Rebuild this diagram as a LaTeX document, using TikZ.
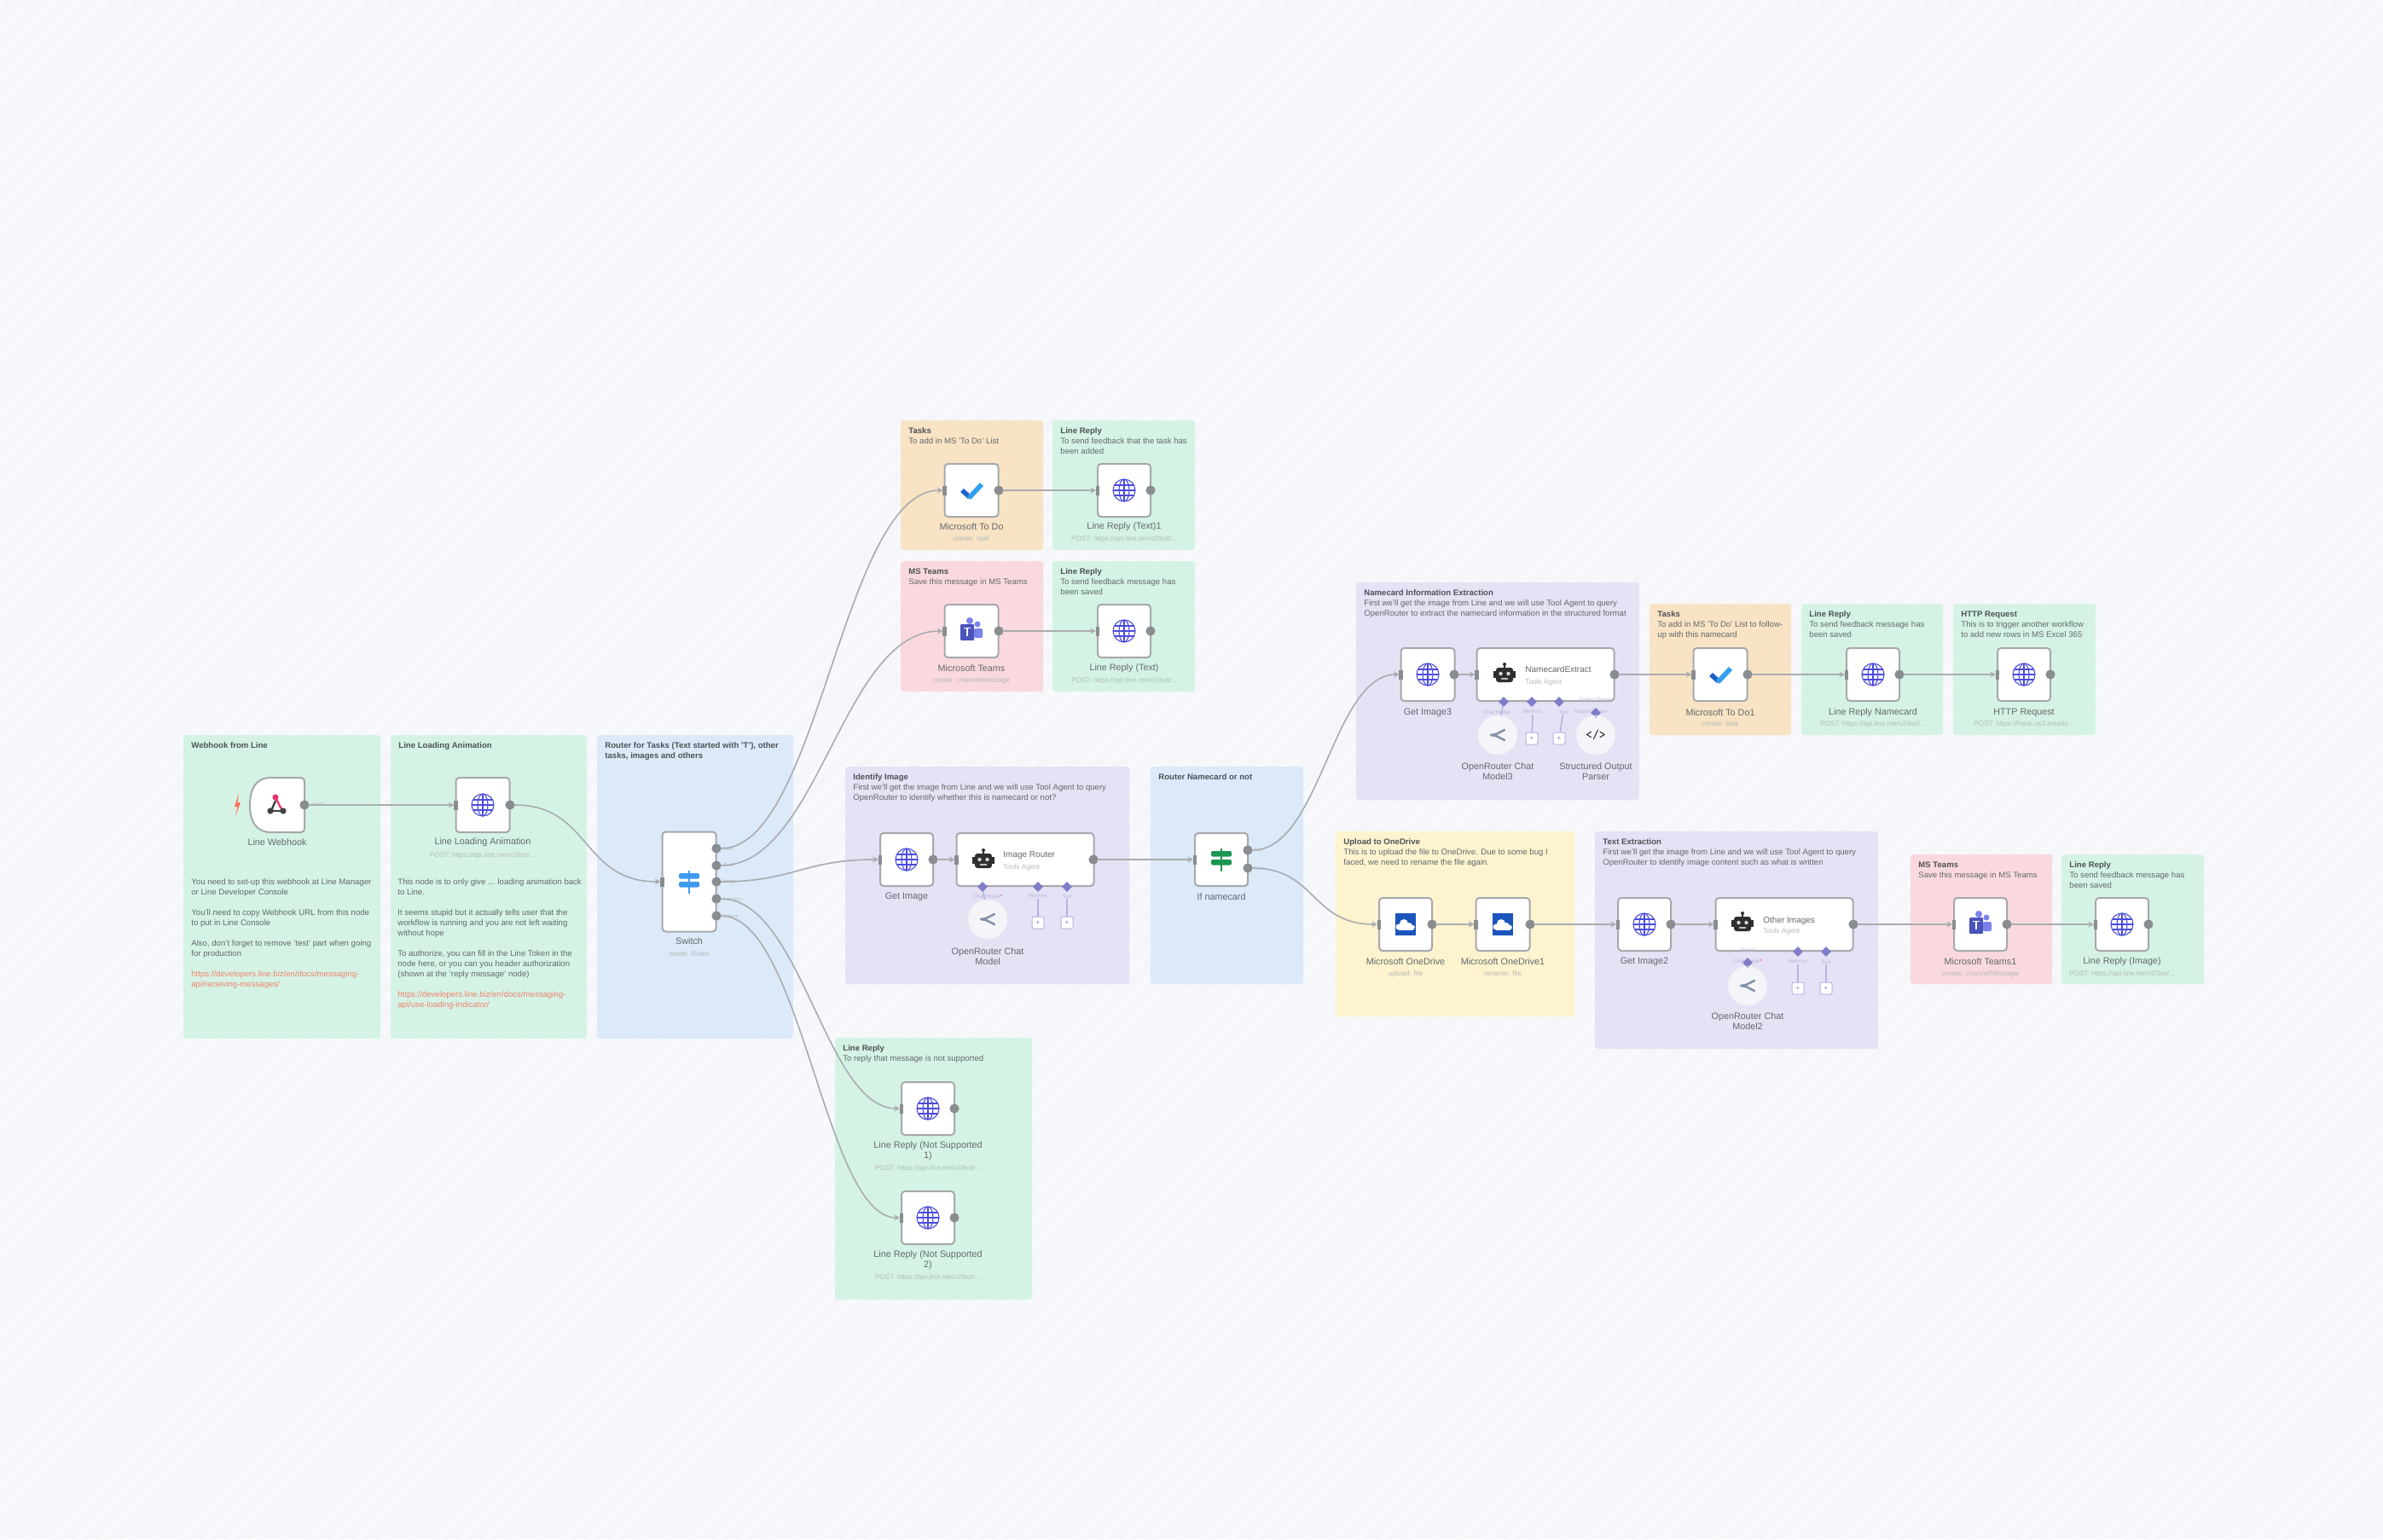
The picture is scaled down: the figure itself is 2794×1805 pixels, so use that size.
\documentclass[tikz,border=0pt]{standalone}
\usepackage{fontspec}
\setmainfont{Liberation Sans}
\usetikzlibrary{arrows.meta,shapes.geometric}
\definecolor{bgbase}{HTML}{F4F6FA}
\definecolor{bgstripe}{HTML}{F8F9FC}
\definecolor{sgreen}{HTML}{D5F3E5}
\definecolor{sblue}{HTML}{DCE9F8}
\definecolor{sorange}{HTML}{F8E3C4}
\definecolor{spink}{HTML}{FAD9DE}
\definecolor{spurple}{HTML}{E4E2F4}
\definecolor{syellow}{HTML}{FDF3CF}
\definecolor{txt}{HTML}{63686C}
\definecolor{head}{HTML}{4E5256}
\definecolor{subt}{HTML}{B4BAB8}
\definecolor{urlred}{HTML}{F0806E}
\definecolor{portc}{HTML}{8A8D90}
\definecolor{boxc}{HTML}{A6A8AB}
\definecolor{linec}{HTML}{A9ACAF}
\definecolor{globec}{HTML}{4B4BDD}
\definecolor{diac}{HTML}{7F7CC8}
\definecolor{dline}{HTML}{B5B3E2}
\definecolor{plabel}{HTML}{B9B8D6}
\definecolor{msdark}{HTML}{1F62C9}
\definecolor{mslight}{HTML}{2F9FEE}
\definecolor{teamdark}{HTML}{4B53BC}
\definecolor{teamlight}{HTML}{7B83EB}
\definecolor{odblue}{HTML}{1B55BB}
\definecolor{signblue}{HTML}{3E9BF0}
\definecolor{signgreen}{HTML}{1C9650}
\definecolor{modelic}{HTML}{8492A8}
\definecolor{hookpink}{HTML}{E5396D}
\definecolor{bolt}{HTML}{FF6D5A}
\tikzset{
  x=0.5pt,y=-0.5pt,
  stickybox/.style={rounded corners=1.5pt,inner sep=0pt,outer sep=0pt,anchor=north west},
  stickytext/.style={anchor=north west,inner sep=0pt,align=left,text=txt,font=\fontsize{4.8}{6}\selectfont},
  nodebox/.style={draw=boxc,fill=white,line width=1pt,rounded corners=2pt,inner sep=0pt,outer sep=0pt},
  inport/.style={fill=portc,draw=none,minimum width=2.2pt,minimum height=5.5pt,inner sep=0pt,outer sep=0pt},
  outport/.style={circle,fill=portc,draw=none,minimum size=5.6pt,inner sep=0pt,outer sep=0pt},
  lbl/.style={inner sep=0pt,align=center,text=txt,yshift=-0.7pt,font=\fontsize{5.4}{6}\selectfont},
  sublbl/.style={inner sep=0pt,align=center,text=subt,yshift=-0.5pt,font=\fontsize{4.1}{4.6}\selectfont},
  elbl/.style={inner sep=0pt,anchor=west,text=subt,font=\fontsize{2.8}{3}\selectfont},
  conn/.style={draw=linec,line width=0.8pt,-{Stealth[length=3.2pt,width=3.6pt]}},
  dia/.style={diamond,fill=diac,draw=none,minimum size=6pt,inner sep=0pt},
  dwire/.style={draw=dline,line width=0.8pt},
  plusbox/.style={draw=dline,fill=white,line width=0.5pt,rounded corners=1pt,minimum size=7pt,inner sep=0pt,text=diac,font=\fontsize{4}{4}\selectfont},
  plab/.style={inner sep=0pt,text=plabel,font=\fontsize{3.1}{3.5}\selectfont},
  modelc/.style={circle,fill=black!4!spurple!30!white,draw=black!6,line width=0.3pt,minimum size=23pt,inner sep=0pt},
}
\newcommand{\hd}[1]{{\bfseries\color{head}#1}}
\newcommand{\stk}[8]{%
  \node[stickybox,fill=#6,minimum width={(#4-#2)*0.5pt},minimum height={(#5-#3)*0.5pt}] (#1) at (#2,#3) {};
  \node[stickytext] (#1-t) at (#2+9,#3+8) {\hd{#7}\\#8};}
\newcommand{\nbox}[5]{%
  \node[nodebox,minimum width={#4*0.5pt},minimum height={#5*0.5pt}] (#1) at (#2,#3) {};
  \node[inport] (#1-i) at (#1.west) {};}
\newcommand{\oport}[3]{\node[outport] (#1) at (#2,#3) {};}
\newcommand{\lab}[4]{\node[lbl] (#1) at (#2,#3) {#4};}
\newcommand{\sublab}[4]{\node[sublbl] (#1) at (#2,#3) {#4};}
\newcommand{\globe}[2]{\begin{scope}[shift={(#1,#2)},draw=globec,line width=0.55pt]
  \draw (0,0) circle (13); \draw (0,0) ellipse (6 and 13);
  \draw (0,-13) -- (0,13); \draw (-13,0) -- (13,0);
  \draw (-11.5,-6) -- (11.5,-6); \draw (-11.5,6) -- (11.5,6);
  \end{scope}}
\newcommand{\robot}[2]{\begin{scope}[shift={(#1,#2)}]
  \fill[black!82] (-13,-3) rectangle (-10,5); \fill[black!82] (10,-3) rectangle (13,5);
  \draw[black!82,line width=0.6pt] (0,-10) -- (0,-6); \fill[black!82] (0,-11) circle (2);
  \fill[black!82,rounded corners=1.5pt] (-10,-7) rectangle (10,10);
  \fill[white!85!black] (-4.5,0) circle (2.2); \fill[white!85!black] (4.5,0) circle (2.2);
  \fill[white!75!black] (-4,5) rectangle (4,6.5);
  \end{scope}}
\newcommand{\chk}[2]{\begin{scope}[shift={(#1,#2)}]
  \draw[line width=2.8pt,color=msdark] (-11,0) -- (-2,8);
  \draw[line width=2.8pt,color=mslight] (-3,9) -- (12,-7);
  \end{scope}}
\newcommand{\teams}[2]{\begin{scope}[shift={(#1,#2)}]
  \fill[color=teamlight] (-2,-12) circle (4);
  \fill[color=teamlight] (7,-8) circle (3.5);
  \fill[color=teamlight,rounded corners=1pt] (3,-3) rectangle (13,8);
  \fill[color=teamdark,rounded corners=0.5pt] (-13,-8) rectangle (3,11);
  \draw[white,line width=0.8pt] (-9,-3.5) -- (-1,-3.5); \draw[white,line width=0.8pt] (-5,-3.5) -- (-5,6);
  \end{scope}}
\newcommand{\onedrive}[2]{\begin{scope}[shift={(#1,#2)}]
  \fill[color=odblue] (-12,-13) rectangle (12,13);
  \fill[white] (-8,3) circle (3.5); \fill[white] (-2,-1) circle (5); \fill[white] (4,2) circle (4); \fill[white] (8,3.5) circle (2.8);
  \fill[white] (-8,3) rectangle (9,6.5);
  \end{scope}}
\newcommand{\sign}[3]{\begin{scope}[shift={(#1,#2)},color=#3]
  \fill (-1.3,-13) rectangle (1.3,14);
  \fill[rounded corners=1pt] (-12,-10) rectangle (12,-3.5);
  \fill[rounded corners=1pt] (-12,0) rectangle (12,6.5);
  \end{scope}}
\newcommand{\modelicon}[2]{\begin{scope}[shift={(#1,#2)}]
  \draw[color=modelic,line width=1.3pt,line join=round,line cap=round] (8,-6) -- (-2,-1) -- (-8,0) -- (-2,1) -- (8,6);
  \end{scope}}
\begin{document}
\begin{tikzpicture}
\useasboundingbox (0,0) rectangle (2794,1805);
\fill[bgbase] (0,0) rectangle (2794,1805);
\begin{scope}
\clip (0,0) rectangle (2794,1805);
\foreach \k in {-1830,-1800,...,2794}{\draw[bgstripe,line width=4.5pt] (\k,1805) -- ({\k+1805},0);}
\end{scope}
% stickies
\stk{s1}{215}{862}{446}{1218}{sgreen}{Webhook from Line}{}
\stk{s2}{458}{862}{688}{1218}{sgreen}{Line Loading Animation}{}
\stk{s3}{700}{862}{930}{1218}{sblue}{Router for Tasks (Text started with 'T'), other}{\hd{tasks, images and others}}
\stk{s4}{1056}{493}{1223}{645}{sorange}{Tasks}{To add in MS 'To Do' List}
\stk{s5}{1234}{493}{1401}{645}{sgreen}{Line Reply}{To send feedback that the task has\\been added}
\stk{s6}{1056}{658}{1223}{811}{spink}{MS Teams}{Save this message in MS Teams}
\stk{s7}{1234}{658}{1401}{811}{sgreen}{Line Reply}{To send feedback message has\\been saved}
\stk{s8}{991}{899}{1324}{1154}{spurple}{Identify Image}{First we'll get the image from Line and we will use Tool Agent to query\\OpenRouter to identify whether this is namecard or not?}
\stk{s9}{1349}{899}{1528}{1154}{sblue}{Router Namecard or not}{}
\stk{s10}{1590}{683}{1922}{938}{spurple}{Namecard Information Extraction}{First we'll get the image from Line and we will use Tool Agent to query\\OpenRouter to extract the namecard information in the structured format}
\stk{s11}{1934}{708}{2100}{862}{sorange}{Tasks}{To add in MS 'To Do' List to follow-\\up with this namecard}
\stk{s12}{2112}{708}{2278}{862}{sgreen}{Line Reply}{To send feedback message has\\been saved}
\stk{s13}{2290}{708}{2457}{862}{sgreen}{HTTP Request}{This is to trigger another workflow\\to add new rows in MS Excel 365}
\stk{s14}{1566}{975}{1846}{1192}{syellow}{Upload to OneDrive}{This is to upload the file to OneDrive. Due to some bug I\\faced, we need to rename the file again.}
\stk{s15}{1870}{975}{2202}{1230}{spurple}{Text Extraction}{First we'll get the image from Line and we will use Tool Agent to query\\OpenRouter to identify image content such as what is written}
\stk{s16}{2240}{1002}{2406}{1154}{spink}{MS Teams}{Save this message in MS Teams}
\stk{s17}{2417}{1002}{2584}{1154}{sgreen}{Line Reply}{To send feedback message has\\been saved}
\stk{s18}{979}{1217}{1210}{1524}{sgreen}{Line Reply}{To reply that message is not supported}
\node[stickytext] (s1b) at (224,1030) {You need to set-up this webhook at Line Manager\\or Line Developer Console\\[6pt]You'll need to copy Webhook URL from this node\\to put in Line Console\\[6pt]Also, don't forget to remove 'test' part when going\\for production\\[6pt]\textcolor{urlred}{https://developers.line.biz/en/docs/messaging-}\\\textcolor{urlred}{api/receiving-messages/}};
\node[stickytext] (s2b) at (466,1030) {This node is to only give ... loading animation back\\to Line.\\[6pt]It seems stupid but it actually tells user that the\\workflow is running and you are not left waiting\\without hope\\[6pt]To authorize, you can fill in the Line Token in the\\node here, or you can you header authorization\\(shown at the 'reply message' node)\\[6pt]\textcolor{urlred}{https://developers.line.biz/en/docs/messaging-}\\\textcolor{urlred}{api/use-loading-indicator/}};
% webhook node (large left radius)
\draw[boxc,fill=white,line width=1pt,rounded corners=2pt] (325,912) -- (357,912) -- (357,976) -- (325,976);
\draw[boxc,fill=white,line width=1pt] (325,912) -- (318,912) .. controls (300,912) and (293,925) .. (293,944) .. controls (293,963) and (300,976) .. (318,976) -- (325,976);
\fill[white] (318,914) rectangle (355,974);
\coordinate (hook) at (325,944);
\oport{hook-o}{357}{944}
\lab{hook-l}{325}{986}{Line Webhook}
% main nodes
\nbox{load}{566}{944}{63}{64}\oport{load-o}{598}{944}
\lab{load-l}{566}{986}{Line Loading Animation}\sublab{load-s}{566}{1002}{POST: https://api.line.me/v2/bot/...}
\nbox{sw}{808}{1034}{63}{117}
\oport{sw-a}{840}{995}\oport{sw-b}{840}{1015}\oport{sw-c}{840}{1034}\oport{sw-d}{840}{1054}\oport{sw-e}{840}{1074}
\lab{sw-l}{808}{1102}{Switch}\sublab{sw-s}{808}{1118}{mode: Rules}
\nbox{todo}{1139}{575}{63}{62}\oport{todo-o}{1171}{575}
\lab{todo-l}{1139}{616}{Microsoft To Do}\sublab{todo-s}{1139}{631}{create: task}
\nbox{rt1}{1318}{575}{62}{62}\oport{rt1-o}{1349}{575}
\lab{rt1-l}{1318}{616}{Line Reply (Text)1}\sublab{rt1-s}{1318}{631}{POST: https://api.line.me/v2/bot/...}
\nbox{tm}{1139}{740}{63}{62}\oport{tm-o}{1171}{740}
\lab{tm-l}{1139}{782}{Microsoft Teams}\sublab{tm-s}{1139}{797}{create: channelMessage}
\nbox{rt}{1318}{740}{62}{62}\oport{rt-o}{1349}{740}
\lab{rt-l}{1318}{782}{Line Reply (Text)}\sublab{rt-s}{1318}{797}{POST: https://api.line.me/v2/bot/...}
\nbox{gi}{1063}{1008}{62}{62}\oport{gi-o}{1094}{1008}
\lab{gi-l}{1063}{1050}{Get Image}
\nbox{ir}{1202}{1008}{161}{62}\oport{ir-o}{1282}{1008}
\node[lbl,anchor=west] (ir-l) at (1176,1002) {\fontsize{5}{6}\selectfont Image Router};
\node[sublbl,anchor=west] (ir-s) at (1176,1016) {Tools Agent};
\nbox{ifn}{1432}{1008}{62}{62}\oport{ifn-a}{1463}{997}\oport{ifn-b}{1463}{1018}
\lab{ifn-l}{1432}{1050}{If namecard}
\nbox{g3}{1674}{791}{63}{62}\oport{g3-o}{1705}{791}
\lab{g3-l}{1674}{834}{Get Image3}
\nbox{nc}{1812}{791}{161}{62}\oport{nc-o}{1893}{791}
\node[lbl,anchor=west] (nc-l) at (1788,784) {\fontsize{5}{6}\selectfont NamecardExtract};
\node[sublbl,anchor=west] (nc-s) at (1788,799) {Tools Agent};
\nbox{td1}{2017}{791}{63}{62}\oport{td1-o}{2049}{791}
\lab{td1-l}{2017}{834}{Microsoft To Do1}\sublab{td1-s}{2017}{848}{create: task}
\nbox{lrn}{2196}{791}{62}{62}\oport{lrn-o}{2227}{791}
\lab{lrn-l}{2196}{834}{Line Reply Namecard}\sublab{lrn-s}{2196}{848}{POST: https://api.line.me/v2/bot/...}
\nbox{ht}{2373}{791}{62}{62}\oport{ht-o}{2404}{791}
\lab{ht-l}{2373}{834}{HTTP Request}\sublab{ht-s}{2373}{848}{POST: https://hook.us2.creatio...}
\nbox{od}{1648}{1084}{62}{62}\oport{od-o}{1679}{1084}
\lab{od-l}{1648}{1126}{Microsoft OneDrive}\sublab{od-s}{1648}{1141}{upload: file}
\nbox{od1}{1762}{1084}{63}{62}\oport{od1-o}{1794}{1084}
\lab{od1-l}{1762}{1126}{Microsoft OneDrive1}\sublab{od1-s}{1762}{1141}{rename: file}
\nbox{g2}{1928}{1084}{62}{62}\oport{g2-o}{1959}{1084}
\lab{g2-l}{1928}{1126}{Get Image2}
\nbox{oi}{2092}{1084}{161}{62}\oport{oi-o}{2173}{1084}
\node[lbl,anchor=west] (oi-l) at (2067,1078) {\fontsize{5}{6}\selectfont Other Images};
\node[sublbl,anchor=west] (oi-s) at (2067,1091) {Tools Agent};
\nbox{t1}{2322}{1084}{62}{62}\oport{t1-o}{2353}{1084}
\lab{t1-l}{2322}{1126}{Microsoft Teams1}\sublab{t1-s}{2322}{1141}{create: channelMessage}
\nbox{lri}{2488}{1084}{62}{62}\oport{lri-o}{2519}{1084}
\lab{lri-l}{2488}{1126}{Line Reply (Image)}\sublab{lri-s}{2488}{1141}{POST: https://api.line.me/v2/bot/...}
\nbox{n1}{1088}{1300}{62}{62}\oport{n1-o}{1119}{1300}
\lab{n1-l}{1088}{1348}{Line Reply (Not Supported\\1)}\sublab{n1-s}{1088}{1369}{POST: https://api.line.me/v2/bot/...}
\nbox{n2}{1088}{1428}{62}{62}\oport{n2-o}{1119}{1428}
\lab{n2-l}{1088}{1476}{Line Reply (Not Supported\\2)}\sublab{n2-s}{1088}{1497}{POST: https://api.line.me/v2/bot/...}
% icons
\fill[bolt] (280,930) -- (275,946) -- (278.5,946) -- (276,957) -- (282,941) -- (278.5,941) -- cycle;
\begin{scope}[shift={(324,944)}]
  \draw[black!75,line width=1.2pt] (-1,-5) -- (-6,7); \draw[black!75,line width=1.2pt] (-6,7) -- (9,7);
  \draw[color=hookpink,line width=1.2pt] (-1,-9) -- (7,7);
  \fill[color=hookpink] (-1,-9) circle (3.6); \fill[black!75] (-7,7) circle (3.6); \fill[black!75] (8,7) circle (3.6);
\end{scope}
\globe{566}{944}
\globe{1318}{575}\globe{1318}{740}\globe{1063}{1008}\globe{1674}{791}\globe{2196}{791}\globe{2373}{791}\globe{1928}{1084}\globe{2488}{1084}\globe{1088}{1300}\globe{1088}{1428}
\chk{1139}{575}\chk{2017}{791}
\teams{1139}{740}\teams{2322}{1084}
\onedrive{1648}{1084}\onedrive{1762}{1084}
\sign{808}{1034}{signblue}
\sign{1432}{1008}{signgreen}
\robot{1153}{1008}\robot{1764}{790}\robot{2043}{1082}
% sub nodes of Image Router
\node[plab] (ir-pa) at (1158,1051) {Chat Model\textcolor{red!70!white}{*}};\node[plab] (ir-pb) at (1217,1051) {Memory};\node[plab] (ir-pc) at (1251,1051) {Tool};
\node[dia] (ir-a) at (1152,1040) {};\node[dia] (ir-b) at (1217,1040) {};\node[dia] (ir-c) at (1251,1040) {};
\node[modelc] (ir-m) at (1158,1078) {};\modelicon{1158}{1078}
\node[plusbox] (ir-x) at (1217,1082) {+};\node[plusbox] (ir-y) at (1251,1082) {+};
\draw[dwire] (ir-pb) -- (ir-x);\draw[dwire] (ir-pc) -- (ir-y);\draw[dwire] (ir-a) -- (ir-m);
\lab{ir-ml}{1158}{1120}{OpenRouter Chat\\Model}
% sub nodes of NamecardExtract
\node[plab] (nc-pa) at (1755,835) {Chat Model};\node[plab] (nc-pb) at (1797,835) {Memory};\node[plab] (nc-pc) at (1833,835) {Tool};\node[plab] (nc-pe) at (1865,835) {Output Parser};\node[plab] (nc-pd) at (1871,821) {Output Parser};
\node[dia] (nc-a) at (1763,823) {};\node[dia] (nc-b) at (1796,823) {};\node[dia] (nc-c) at (1828,823) {};\node[dia] (nc-d) at (1871,836) {};
\node[modelc] (nc-m) at (1756,862) {};\modelicon{1756}{862}
\node[modelc] (nc-r) at (1871,862) {};\node[inner sep=0pt,font=\fontsize{7.5}{8}\bfseries\ttfamily,text=black!80] (nc-rt) at (1871,862) {</>};
\node[plusbox] (nc-x) at (1796,866) {+};\node[plusbox] (nc-y) at (1828,866) {+};
\draw[dwire] (nc-pb) -- (nc-x);\draw[dwire] (nc-pc) -- (nc-y);\draw[dwire] (nc-a) -- (nc-m);\draw[dwire] (nc-d) -- (nc-r);
\lab{nc-ml}{1756}{903}{OpenRouter Chat\\Model3}
\lab{nc-rl}{1871}{903}{Structured Output\\Parser}
% sub nodes of Other Images
\node[plab] (oi-pa) at (2049,1127) {Chat Model\textcolor{red!70!white}{*}};\node[plab] (oi-pz) at (2049,1114) {Model};\node[plab] (oi-pb) at (2108,1128) {Memory};\node[plab] (oi-pc) at (2141,1128) {Tool};
\node[dia] (oi-a) at (2049,1129) {};\node[dia] (oi-b) at (2108,1116) {};\node[dia] (oi-c) at (2141,1116) {};
\node[modelc] (oi-m) at (2049,1156) {};\modelicon{2049}{1156}
\node[plusbox] (oi-x) at (2108,1159) {+};\node[plusbox] (oi-y) at (2141,1159) {+};
\draw[dwire] (oi-pb) -- (oi-x);\draw[dwire] (oi-pc) -- (oi-y);\draw[dwire] (oi-a) -- (oi-m);
\lab{oi-ml}{2049}{1196}{OpenRouter Chat\\Model2}
% edge labels
\node[elbl] (e1) at (365,944) {POST};
\node[elbl] (e2) at (848,995) {Task};\node[elbl] (e3) at (848,1015) {Text};\node[elbl] (e4) at (848,1034) {Image};\node[elbl] (e5) at (848,1054) {Location};\node[elbl] (e6) at (848,1074) {Others};
\node[elbl] (e7) at (1471,997) {true};\node[elbl] (e8) at (1471,1018) {false};
% connectors
\draw[conn] (hook-o) -- (load-i);
\draw[conn] (load-o) .. controls +(95,0) and +(-95,0) .. (sw-i);
\draw[conn] (sw-a) .. controls +(120,0) and +(-120,0) .. (todo-i);
\draw[conn] (sw-b) .. controls +(120,0) and +(-120,0) .. (tm-i);
\draw[conn] (sw-c) .. controls +(90,0) and +(-90,0) .. (gi-i);
\draw[conn] (sw-d) .. controls +(100,0) and +(-90,0) .. (n1-i);
\draw[conn] (sw-e) .. controls +(100,0) and +(-90,0) .. (n2-i);
\draw[conn] (todo-o) -- (rt1-i);
\draw[conn] (tm-o) -- (rt-i);
\draw[conn] (gi-o) -- (ir-i);
\draw[conn] (ir-o) -- (ifn-i);
\draw[conn] (ifn-a) .. controls +(85,0) and +(-80,0) .. (g3-i);
\draw[conn] (ifn-b) .. controls +(80,0) and +(-80,0) .. (od-i);
\draw[conn] (g3-o) -- (nc-i);
\draw[conn] (nc-o) -- (td1-i);
\draw[conn] (td1-o) -- (lrn-i);
\draw[conn] (lrn-o) -- (ht-i);
\draw[conn] (od-o) -- (od1-i);
\draw[conn] (od1-o) -- (g2-i);
\draw[conn] (g2-o) -- (oi-i);
\draw[conn] (oi-o) -- (t1-i);
\draw[conn] (t1-o) -- (lri-i);
\end{tikzpicture}
\end{document}
